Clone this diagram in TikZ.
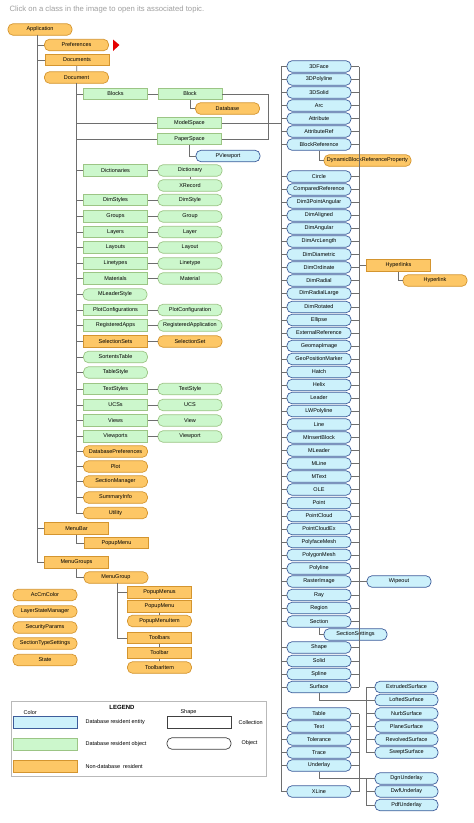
\documentclass[tikz,border=0pt]{standalone}
\usepackage{fontspec}
\setmainfont{Liberation Sans}

\definecolor{ndbfill}{HTML}{FDC766}
\definecolor{ndbline}{HTML}{D4952F}
\definecolor{dbofill}{HTML}{CCF7CC}
\definecolor{dboline}{HTML}{9CC585}
\definecolor{entfill}{HTML}{CCF1FB}
\definecolor{entline}{HTML}{3D5C9A}
\definecolor{wiregray}{HTML}{6E6E6E}

\tikzset{
  cls/.style={minimum width=64pt, minimum height=11.5pt, inner sep=0pt,
    font=\fontsize{5.5}{6}\selectfont, line width=0.7pt},
  coll/.style={cls, rectangle},
  objn/.style={cls, rounded corners=5pt},
  ent/.style={fill=entfill, draw=entline},
  dbo/.style={fill=dbofill, draw=dboline},
  ndb/.style={fill=ndbfill, draw=ndbline},
  wire/.style={draw=wiregray, line width=0.7pt},
  legtext/.style={anchor=west, font=\fontsize{5.5}{6}\selectfont},
}

\begin{document}
\begin{tikzpicture}[x=1pt, y=-1pt]
\useasboundingbox (0,0) rectangle (474,823);

\node[anchor=west, text=gray!75, font=\fontsize{7.7}{9}\selectfont] (hint) at (6,10)
  {Click on a class in the image to open its associated topic.};

% application tree
\node[objn,ndb] (app) at (40,29.5) {Application};
\node[objn,ndb] (prefs) at (76.5,45) {Preferences};
\node[coll,ndb] (docs) at (77,60) {Documents};
\node[objn,ndb] (doc) at (76.5,77.5) {Document};
\fill[red!90!black] (113,39.5) -- (119.5,45) -- (113,51) -- cycle;

\node[coll,dbo] (blocks) at (115.5,94) {Blocks};
\node[coll,dbo] (block) at (190,94) {Block};
\node[objn,ndb] (database) at (227.5,108.5) {Database};
\node[coll,dbo] (modelsp) at (189.5,123) {ModelSpace};
\node[coll,dbo] (papersp) at (189.5,139) {PaperSpace};
\node[objn,ent] (pvport) at (228,156) {PViewport};
\node[coll,dbo] (dicts) at (115.5,170.5) {Dictionaries};
\node[objn,dbo] (dict) at (190,170.5) {Dictionary};
\node[objn,dbo] (xrec) at (190,185.5) {XRecord};
\node[coll,dbo] (dimstyles) at (115.5,200) {DimStyles};
\node[objn,dbo] (dimstyle) at (190,200) {DimStyle};
\node[coll,dbo] (groups) at (115.5,216.5) {Groups};
\node[objn,dbo] (group) at (190,216.5) {Group};
\node[coll,dbo] (layers) at (115.5,232) {Layers};
\node[objn,dbo] (layer) at (190,232) {Layer};
\node[coll,dbo] (layouts) at (115.5,247.5) {Layouts};
\node[objn,dbo] (layout) at (190,247.5) {Layout};
\node[coll,dbo] (linetypes) at (115.5,263.5) {Linetypes};
\node[objn,dbo] (linetype) at (190,263.5) {Linetype};
\node[coll,dbo] (materials) at (115.5,278.5) {Materials};
\node[objn,dbo] (material) at (190,278.5) {Material};
\node[objn,dbo] (mlstyle) at (115,294.5) {MLeaderStyle};
\node[coll,dbo] (plotcfgs) at (115.5,310) {PlotConfigurations};
\node[objn,dbo] (plotcfg) at (190,310) {PlotConfiguration};
\node[coll,dbo] (regapps) at (115.5,325.5) {RegisteredApps};
\node[objn,dbo] (regapp) at (190,325.5) {RegisteredApplication};
\node[coll,ndb] (selsets) at (115.5,341.5) {SelectionSets};
\node[objn,ndb] (selset) at (190,341.5) {SelectionSet};
\node[objn,dbo] (sortents) at (115.5,357) {SortentsTable};
\node[objn,dbo] (tblstyle) at (115.5,372.5) {TableStyle};
\node[coll,dbo] (txtstyles) at (115.5,389) {TextStyles};
\node[objn,dbo] (txtstyle) at (190,389) {TextStyle};
\node[coll,dbo] (ucss) at (115.5,405) {UCSs};
\node[objn,dbo] (ucs) at (190,405) {UCS};
\node[coll,dbo] (views) at (115.5,420.5) {Views};
\node[objn,dbo] (view) at (190,420.5) {View};
\node[coll,dbo] (vports) at (115.5,436.5) {Viewports};
\node[objn,dbo] (vport) at (190,436.5) {Viewport};
\node[objn,ndb] (dbprefs) at (115.5,451.5) {DatabasePreferences};
\node[objn,ndb] (plot) at (115.5,466.5) {Plot};
\node[objn,ndb] (secmgr) at (115.5,481.5) {SectionManager};
\node[objn,ndb] (suminfo) at (115.5,497.5) {SummaryInfo};
\node[objn,ndb] (utility) at (115.5,513) {Utility};

\node[coll,ndb] (menubar) at (76.5,528.5) {MenuBar};
\node[coll,ndb] (barpopup) at (116.5,543) {PopupMenu};
\node[coll,ndb] (menugroups) at (76.5,562.5) {MenuGroups};
\node[objn,ndb] (menugroup) at (116,577.5) {MenuGroup};
\node[coll,ndb] (popupmenus) at (159.5,592.5) {PopupMenus};
\node[coll,ndb] (popupmenu) at (159.5,606.5) {PopupMenu};
\node[objn,ndb] (popupitem) at (159.5,621) {PopupMenuItem};
\node[coll,ndb] (toolbars) at (159.5,638) {Toolbars};
\node[coll,ndb] (toolbar) at (159.5,653) {Toolbar};
\node[objn,ndb] (toolitem) at (159.5,667.5) {ToolbarItem};

\node[objn,ndb] (cmcolor) at (45,595) {AcCmColor};
\node[objn,ndb] (lsmgr) at (45,611.5) {LayerStateManager};
\node[objn,ndb] (secparams) at (45,627.5) {SecurityParams};
\node[objn,ndb] (sectype) at (45,643.5) {SectionTypeSettings};
\node[objn,ndb] (state) at (45,660) {State};

% entity column
\node[objn,ent] (e3dface) at (319,66.5) {3DFace};
\node[objn,ent] (e3dpoly) at (319,79.5) {3DPolyline};
\node[objn,ent] (e3dsolid) at (319,92.5) {3DSolid};
\node[objn,ent] (earc) at (319,105.5) {Arc};
\node[objn,ent] (eattr) at (319,118.5) {Attribute};
\node[objn,ent] (eattrref) at (319,131.5) {AttributeRef};
\node[objn,ent] (eblkref) at (319,144.5) {BlockReference};
\node[objn,ndb, minimum width=87pt] (dynprop) at (367.5,160.5) {DynamicBlockReferenceProperty};
\node[objn,ent] (ecircle) at (319,176.5) {Circle};
\node[objn,ent] (ecompref) at (319,189.5) {ComparedReference};
\node[objn,ent] (edim3pt) at (319,202.5) {Dim3PointAngular};
\node[objn,ent] (edimalign) at (319,215.5) {DimAligned};
\node[objn,ent] (edimang) at (319,228.5) {DimAngular};
\node[objn,ent] (edimarc) at (319,241.5) {DimArcLength};
\node[objn,ent] (edimdiam) at (319,254.5) {DimDiametric};
\node[objn,ent] (edimord) at (319,267.5) {DimOrdinate};
\node[objn,ent] (edimrad) at (319,280.5) {DimRadial};
\node[objn,ent] (edimradl) at (319,293.5) {DimRadialLarge};
\node[objn,ent] (edimrot) at (319,307) {DimRotated};
\node[objn,ent] (eellipse) at (319,320) {Ellipse};
\node[objn,ent] (exref) at (319,333) {ExternalReference};
\node[objn,ent] (egeoimg) at (319,346) {GeomapImage};
\node[objn,ent] (egeopos) at (319,359) {GeoPositionMarker};
\node[objn,ent] (ehatch) at (319,372) {Hatch};
\node[objn,ent] (ehelix) at (319,385) {Helix};
\node[objn,ent] (eleader) at (319,398) {Leader};
\node[objn,ent] (elwpoly) at (319,411) {LWPolyline};
\node[objn,ent] (eline) at (319,424.5) {Line};
\node[objn,ent] (eminsert) at (319,437.5) {MInsertBlock};
\node[objn,ent] (emleader) at (319,450.5) {MLeader};
\node[objn,ent] (emline) at (319,463.5) {MLine};
\node[objn,ent] (emtext) at (319,476.5) {MText};
\node[objn,ent] (eole) at (319,489.5) {OLE};
\node[objn,ent] (epoint) at (319,503) {Point};
\node[objn,ent] (ecloud) at (319,516) {PointCloud};
\node[objn,ent] (ecloudex) at (319,529) {PointCloudEx};
\node[objn,ent] (epface) at (319,542) {PolyfaceMesh};
\node[objn,ent] (epmesh) at (319,555) {PolygonMesh};
\node[objn,ent] (epline) at (319,568.5) {Polyline};
\node[objn,ent] (eraster) at (319,581.5) {RasterImage};
\node[objn,ent] (eray) at (319,595) {Ray};
\node[objn,ent] (eregion) at (319,608) {Region};
\node[objn,ent] (esection) at (319,621.5) {Section};
\node[objn,ent, minimum width=63pt] (secsettings) at (355.5,634.5) {SectionSettings};
\node[objn,ent] (eshape) at (319,647.5) {Shape};
\node[objn,ent] (esolid) at (319,661) {Solid};
\node[objn,ent] (espline) at (319,674) {Spline};
\node[objn,ent] (esurface) at (319,687) {Surface};
\node[objn,ent] (etable) at (319,713.5) {Table};
\node[objn,ent] (etext) at (319,726.5) {Text};
\node[objn,ent] (etol) at (319,739.5) {Tolerance};
\node[objn,ent] (etrace) at (319,752.5) {Trace};
\node[objn,ent] (eunderlay) at (319,765.5) {Underlay};
\node[objn,ent] (exline) at (319,791.5) {XLine};

\node[coll,ndb] (hyperlinks) at (398.5,265.5) {Hyperlinks};
\node[objn,ndb] (hyperlink) at (435,280.5) {Hyperlink};
\node[objn,ent] (wipeout) at (399,581.5) {Wipeout};

\node[objn,ent, minimum width=63pt] (extruded) at (406.5,687) {ExtrudedSurface};
\node[objn,ent, minimum width=63pt] (lofted) at (406.5,700) {LoftedSurface};
\node[objn,ent, minimum width=63pt] (nurb) at (406.5,713.5) {NurbSurface};
\node[objn,ent, minimum width=63pt] (planesurf) at (406.5,726.5) {PlaneSurface};
\node[objn,ent, minimum width=63pt] (revolved) at (406.5,739.5) {RevolvedSurface};
\node[objn,ent, minimum width=63pt] (swept) at (406.5,752.5) {SweptSurface};
\node[objn,ent, minimum width=63pt] (dgnul) at (406.5,778.5) {DgnUnderlay};
\node[objn,ent, minimum width=63pt] (dwful) at (406.5,791.5) {DwfUnderlay};
\node[objn,ent, minimum width=63pt] (pdful) at (406.5,805) {PdfUnderlay};

% buses
\coordinate (appbus) at (37,35);
\coordinate (docbus) at (76,83);
\coordinate (blkbus) at (268,94);
\coordinate (mgbus) at (117,583);
\coordinate (entl) at (281,66.5);
\coordinate (entr) at (359,66.5);
\coordinate (surfbus) at (366,687);

% connectors, left side
\draw[wire] (appbus) |- (menugroups);
\path[wire] (prefs) edge (appbus |- prefs)
  (docs) edge (appbus |- docs)
  (menubar) edge (appbus |- menubar)
  (docs) edge (doc);
\draw[wire] (docbus) |- (utility);
\path[wire] (blocks) edge (docbus |- blocks) edge (block)
  (modelsp) edge (docbus |- modelsp) edge (entl |- modelsp)
  (papersp) edge (docbus |- papersp)
  (dicts) edge (docbus |- dicts) edge (dict)
  (dict) edge (xrec)
  (dimstyles) edge (docbus |- dimstyles) edge (dimstyle)
  (groups) edge (docbus |- groups) edge (group)
  (layers) edge (docbus |- layers) edge (layer)
  (layouts) edge (docbus |- layouts) edge (layout)
  (linetypes) edge (docbus |- linetypes) edge (linetype)
  (materials) edge (docbus |- materials) edge (material)
  (mlstyle) edge (docbus |- mlstyle)
  (plotcfgs) edge (docbus |- plotcfgs) edge (plotcfg)
  (regapps) edge (docbus |- regapps) edge (regapp)
  (selsets) edge (docbus |- selsets) edge (selset)
  (sortents) edge (docbus |- sortents)
  (tblstyle) edge (docbus |- tblstyle)
  (txtstyles) edge (docbus |- txtstyles) edge (txtstyle)
  (ucss) edge (docbus |- ucss) edge (ucs)
  (views) edge (docbus |- views) edge (view)
  (vports) edge (docbus |- vports) edge (vport)
  (dbprefs) edge (docbus |- dbprefs)
  (plot) edge (docbus |- plot)
  (secmgr) edge (docbus |- secmgr)
  (suminfo) edge (docbus |- suminfo);
\draw[wire] (block) -- (blkbus) |- (papersp);
\draw[wire] (block.south) |- (database);
\draw[wire] (papersp.south) |- (pvport);
\draw[wire] (menubar.south) |- (barpopup);
\draw[wire] (menugroups.south) |- (menugroup);
\draw[wire] (mgbus) |- (toolbars);
\path[wire] (popupmenus) edge (mgbus |- popupmenus) edge (popupmenu)
  (popupmenu) edge (popupitem)
  (toolbars) edge (toolbar)
  (toolbar) edge (toolitem);

% connectors, entity column
\draw[wire] (entl) -- (entl |- exline);
\draw[wire] (entr) -- (entr |- esurface) (entr |- etable) -- (entr |- exline);
\path[wire] (e3dface) edge (entl |- e3dface) edge (entr |- e3dface)
  (e3dpoly) edge (entl |- e3dpoly) edge (entr |- e3dpoly)
  (e3dsolid) edge (entl |- e3dsolid) edge (entr |- e3dsolid)
  (earc) edge (entl |- earc) edge (entr |- earc)
  (eattr) edge (entl |- eattr) edge (entr |- eattr)
  (eattrref) edge (entl |- eattrref) edge (entr |- eattrref)
  (eblkref) edge (entl |- eblkref) edge (entr |- eblkref)
  (ecircle) edge (entl |- ecircle) edge (entr |- ecircle)
  (ecompref) edge (entl |- ecompref) edge (entr |- ecompref)
  (edim3pt) edge (entl |- edim3pt) edge (entr |- edim3pt)
  (edimalign) edge (entl |- edimalign) edge (entr |- edimalign)
  (edimang) edge (entl |- edimang) edge (entr |- edimang)
  (edimarc) edge (entl |- edimarc) edge (entr |- edimarc)
  (edimdiam) edge (entl |- edimdiam) edge (entr |- edimdiam)
  (edimord) edge (entl |- edimord) edge (entr |- edimord)
  (edimrad) edge (entl |- edimrad) edge (entr |- edimrad)
  (edimradl) edge (entl |- edimradl) edge (entr |- edimradl)
  (edimrot) edge (entl |- edimrot) edge (entr |- edimrot)
  (eellipse) edge (entl |- eellipse) edge (entr |- eellipse)
  (exref) edge (entl |- exref) edge (entr |- exref)
  (egeoimg) edge (entl |- egeoimg) edge (entr |- egeoimg)
  (egeopos) edge (entl |- egeopos) edge (entr |- egeopos)
  (ehatch) edge (entl |- ehatch) edge (entr |- ehatch)
  (ehelix) edge (entl |- ehelix) edge (entr |- ehelix)
  (eleader) edge (entl |- eleader) edge (entr |- eleader)
  (elwpoly) edge (entl |- elwpoly) edge (entr |- elwpoly)
  (eline) edge (entl |- eline) edge (entr |- eline)
  (eminsert) edge (entl |- eminsert) edge (entr |- eminsert)
  (emleader) edge (entl |- emleader) edge (entr |- emleader)
  (emline) edge (entl |- emline) edge (entr |- emline)
  (emtext) edge (entl |- emtext) edge (entr |- emtext)
  (eole) edge (entl |- eole) edge (entr |- eole)
  (epoint) edge (entl |- epoint) edge (entr |- epoint)
  (ecloud) edge (entl |- ecloud) edge (entr |- ecloud)
  (ecloudex) edge (entl |- ecloudex) edge (entr |- ecloudex)
  (epface) edge (entl |- epface) edge (entr |- epface)
  (epmesh) edge (entl |- epmesh) edge (entr |- epmesh)
  (epline) edge (entl |- epline) edge (entr |- epline)
  (eraster) edge (entl |- eraster) edge (wipeout)
  (eray) edge (entl |- eray) edge (entr |- eray)
  (eregion) edge (entl |- eregion) edge (entr |- eregion)
  (esection) edge (entl |- esection) edge (entr |- esection)
  (eshape) edge (entl |- eshape) edge (entr |- eshape)
  (esolid) edge (entl |- esolid) edge (entr |- esolid)
  (espline) edge (entl |- espline) edge (entr |- espline)
  (esurface) edge (entl |- esurface) edge (entr |- esurface)
  (etable) edge (entl |- etable) edge (entr |- etable)
  (etext) edge (entl |- etext) edge (entr |- etext)
  (etol) edge (entl |- etol) edge (entr |- etol)
  (etrace) edge (entl |- etrace) edge (entr |- etrace)
  (eunderlay) edge (entl |- eunderlay) edge (entr |- eunderlay)
  (exline) edge (entl |- exline) edge (entr |- exline);
\draw[wire] (eblkref.south) |- (dynprop);
\draw[wire] (esection.south) |- (secsettings);
\draw[wire] (entr |- hyperlinks) -- (hyperlinks);
\draw[wire] (hyperlinks.south) |- (hyperlink);

% surfaces and underlays
\draw[wire] (esurface.south) |- (lofted);
\draw[wire] (surfbus) -- (surfbus |- swept);
\path[wire] (extruded) edge (surfbus |- extruded)
  (nurb) edge (surfbus |- nurb)
  (planesurf) edge (surfbus |- planesurf)
  (revolved) edge (surfbus |- revolved)
  (swept) edge (surfbus |- swept);
\draw[wire] (eunderlay.south) |- (dgnul);
\draw[wire] (surfbus |- dgnul) -- (surfbus |- pdful);
\path[wire] (dwful) edge (surfbus |- dwful)
  (pdful) edge (surfbus |- pdful);

% legend
\draw[draw=gray!55, line width=0.8pt] (11,701) rectangle (266,776);
\node[font=\bfseries\fontsize{6}{7}\selectfont] (legtitle) at (122,707) {LEGEND};
\node[legtext] (legcolor) at (20,712.5) {Color};
\node[legtext] (legshape) at (177,712) {Shape};
\node[coll,ent] (keyent) at (45.5,722.5) {};
\node[coll,dbo] (keydbo) at (45.5,744.5) {};
\node[coll,ndb] (keyndb) at (45.5,766.5) {};
\node[legtext] (txtent) at (82,722.5) {Database resident entity};
\node[legtext] (txtdbo) at (82,744.5) {Database resident object};
\node[legtext] (txtndb) at (82,766.5) {Non-database\ \ resident};
\node[coll, draw=black!75, fill=white] (keycoll) at (199,722.5) {};
\node[objn, draw=black!75, fill=white] (keyobj) at (199,743.5) {};
\node[legtext] (txtcoll) at (235,722.5) {Collection};
\node[legtext] (txtobj) at (238,743) {Object};
\end{tikzpicture}
\end{document}
